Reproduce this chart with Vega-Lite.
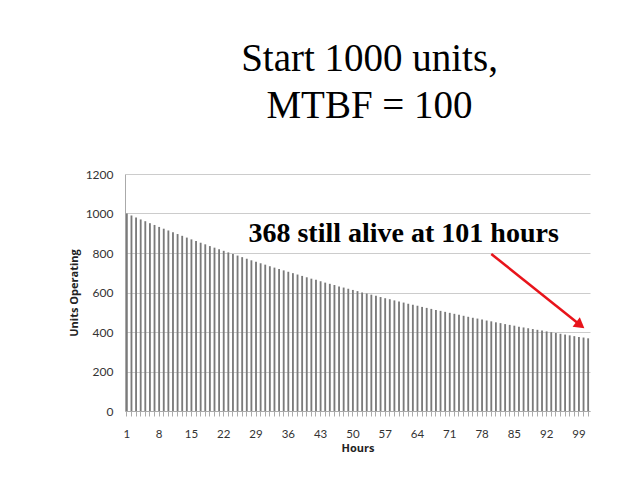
{
  "$schema": "https://vega.github.io/schema/vega-lite/v6.json",
  "width": 465,
  "height": 237,
  "padding": {"left": 68, "top": 40, "right": 5, "bottom": 5},
  "background": "white",
  "title": {
    "text": ["Start 1000 units,", "MTBF = 100"],
    "font": "Liberation Serif",
    "fontSize": 39,
    "fontWeight": "normal",
    "color": "black",
    "lineHeight": 47,
    "anchor": "middle",
    "dx": 12,
    "offset": 42
  },
  "data": {
    "values": [
      {"hour": 1, "units": 1000}, {"hour": 2, "units": 990}, {"hour": 3, "units": 980}, {"hour": 4, "units": 970},
      {"hour": 5, "units": 961}, {"hour": 6, "units": 951}, {"hour": 7, "units": 942}, {"hour": 8, "units": 932},
      {"hour": 9, "units": 923}, {"hour": 10, "units": 914}, {"hour": 11, "units": 905}, {"hour": 12, "units": 896},
      {"hour": 13, "units": 887}, {"hour": 14, "units": 878}, {"hour": 15, "units": 869}, {"hour": 16, "units": 861},
      {"hour": 17, "units": 852}, {"hour": 18, "units": 844}, {"hour": 19, "units": 835}, {"hour": 20, "units": 827},
      {"hour": 21, "units": 819}, {"hour": 22, "units": 811}, {"hour": 23, "units": 803}, {"hour": 24, "units": 795},
      {"hour": 25, "units": 787}, {"hour": 26, "units": 779}, {"hour": 27, "units": 771}, {"hour": 28, "units": 763},
      {"hour": 29, "units": 756}, {"hour": 30, "units": 748}, {"hour": 31, "units": 741}, {"hour": 32, "units": 733},
      {"hour": 33, "units": 726}, {"hour": 34, "units": 719}, {"hour": 35, "units": 712}, {"hour": 36, "units": 705},
      {"hour": 37, "units": 698}, {"hour": 38, "units": 691}, {"hour": 39, "units": 684}, {"hour": 40, "units": 677},
      {"hour": 41, "units": 670}, {"hour": 42, "units": 664}, {"hour": 43, "units": 657}, {"hour": 44, "units": 650},
      {"hour": 45, "units": 644}, {"hour": 46, "units": 638}, {"hour": 47, "units": 631}, {"hour": 48, "units": 625},
      {"hour": 49, "units": 619}, {"hour": 50, "units": 613}, {"hour": 51, "units": 607}, {"hour": 52, "units": 600},
      {"hour": 53, "units": 595}, {"hour": 54, "units": 589}, {"hour": 55, "units": 583}, {"hour": 56, "units": 577},
      {"hour": 57, "units": 571}, {"hour": 58, "units": 566}, {"hour": 59, "units": 560}, {"hour": 60, "units": 554},
      {"hour": 61, "units": 549}, {"hour": 62, "units": 543}, {"hour": 63, "units": 538}, {"hour": 64, "units": 533},
      {"hour": 65, "units": 527}, {"hour": 66, "units": 522}, {"hour": 67, "units": 517}, {"hour": 68, "units": 512},
      {"hour": 69, "units": 507}, {"hour": 70, "units": 502}, {"hour": 71, "units": 497}, {"hour": 72, "units": 492},
      {"hour": 73, "units": 487}, {"hour": 74, "units": 482}, {"hour": 75, "units": 477}, {"hour": 76, "units": 472},
      {"hour": 77, "units": 468}, {"hour": 78, "units": 463}, {"hour": 79, "units": 458}, {"hour": 80, "units": 454},
      {"hour": 81, "units": 449}, {"hour": 82, "units": 445}, {"hour": 83, "units": 440}, {"hour": 84, "units": 436},
      {"hour": 85, "units": 432}, {"hour": 86, "units": 427}, {"hour": 87, "units": 423}, {"hour": 88, "units": 419},
      {"hour": 89, "units": 415}, {"hour": 90, "units": 411}, {"hour": 91, "units": 407}, {"hour": 92, "units": 403},
      {"hour": 93, "units": 399}, {"hour": 94, "units": 395}, {"hour": 95, "units": 391}, {"hour": 96, "units": 387},
      {"hour": 97, "units": 383}, {"hour": 98, "units": 379}, {"hour": 99, "units": 375}, {"hour": 100, "units": 372},
      {"hour": 101, "units": 368}
    ]
  },
  "layer": [
    {
      "mark": {"type": "bar", "color": "#7a7a7a"},
      "encoding": {
        "x": {
          "field": "hour",
          "type": "ordinal",
          "sort": "ascending",
          "scale": {"paddingInner": 0.6, "paddingOuter": 0.2},
          "axis": {
            "title": "Hours",
            "titleFont": "Open Sans",
            "titleFontSize": 11,
            "titleFontWeight": "bold",
            "titleColor": "#222",
            "titlePadding": 3,
            "labelAngle": 0,
            "labelFont": "Lato",
            "labelFontSize": 11.5,
            "labelColor": "#333",
            "labelPadding": 12,
            "labelExpr": "(datum.value - 1) % 7 == 0 ? datum.value : ''",
            "labelOverlap": false,
            "tickSize": 5,
            "tickColor": "#aaaaaa",
            "domainColor": "#aaaaaa",
            "grid": false
          }
        },
        "y": {
          "field": "units",
          "type": "quantitative",
          "scale": {"domain": [0, 1200], "nice": false},
          "axis": {
            "title": "Units Operating",
            "titleFont": "Open Sans",
            "titleFontSize": 11,
            "titleFontWeight": "bold",
            "titleColor": "#222",
            "titlePadding": 6,
            "values": [0, 200, 400, 600, 800, 1000, 1200],
            "tickCount": 7,
            "format": "d",
            "labelOverlap": false,
            "labelFont": "Lato",
            "labelFontSize": 12,
            "labelColor": "#333",
            "labelPadding": 12,
            "ticks": false,
            "domainColor": "#aaaaaa",
            "gridColor": "#cccccc"
          }
        }
      }
    },
    {
      "data": {"values": [{"label": "368 still alive at 101 hours"}]},
      "mark": {"type": "text", "font": "Liberation Serif", "fontSize": 28, "fontWeight": "bold", "color": "black", "align": "center", "baseline": "alphabetic"},
      "encoding": {
        "text": {"field": "label"},
        "x": {"datum": 61, "type": "ordinal"},
        "y": {"datum": 856, "type": "quantitative"}
      }
    },
    {
      "data": {"values": [{}]},
      "mark": {"type": "rule", "color": "#e8141b", "strokeWidth": 2.5},
      "encoding": {
        "x": {"datum": 80, "type": "ordinal"},
        "x2": {"datum": 99},
        "y": {"datum": 795, "type": "quantitative"},
        "y2": {"datum": 440}
      }
    },
    {
      "data": {"values": [{}]},
      "mark": {"type": "point", "shape": "triangle", "angle": 127.5, "size": 140, "filled": true, "color": "#e8141b", "opacity": 1},
      "encoding": {
        "x": {"datum": 99, "type": "ordinal"},
        "y": {"datum": 440, "type": "quantitative"}
      }
    }
  ],
  "config": {"view": {"stroke": null}}
}
